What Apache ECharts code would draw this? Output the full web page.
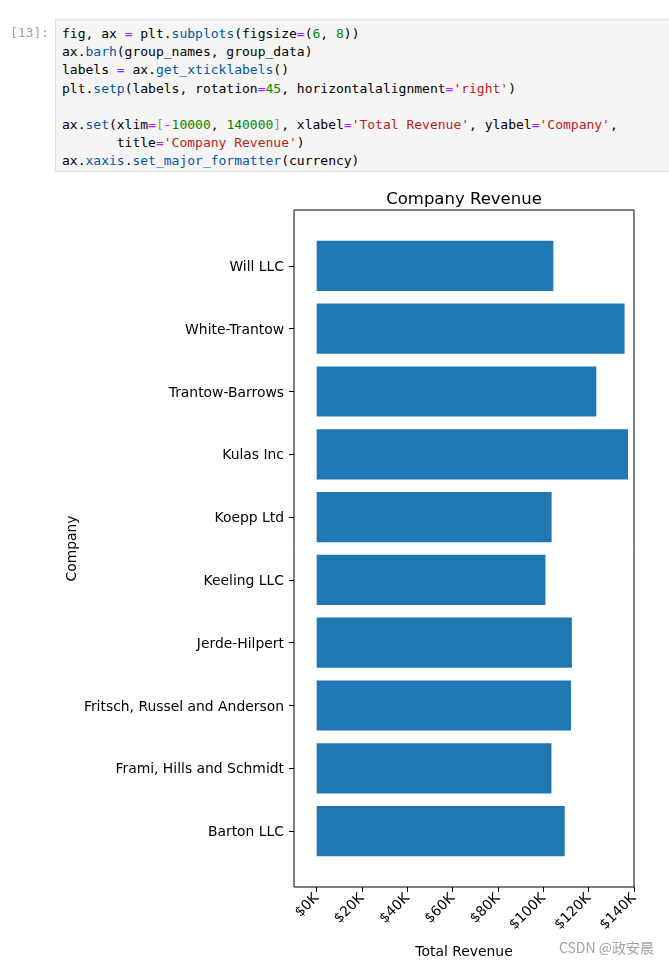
<!DOCTYPE html>
<html>
<head>
<meta charset="utf-8">
<script src="https://cdn.jsdelivr.net/npm/echarts@6/dist/echarts.min.js"></script>
<style>
  html, body { margin: 0; padding: 0; background: #fff; width: 669px; height: 967px; overflow: hidden; }
  #chart { position: absolute; left: 0; top: 0; width: 669px; height: 967px; }
  #prompt { position: absolute; left: 10px; top: 24px; font-family: "DejaVu Sans Mono", monospace; font-size: 13px; line-height: 18.2px; color: #a0a0a0; }
  #cell { position: absolute; left: 55px; top: 19px; width: 640px; height: 153px; background: #f5f5f5; border: 1px solid #e0e0e0; box-sizing: border-box; }
  #cell pre { margin: 0; padding: 5px 0 0 6px; font-family: "DejaVu Sans Mono", monospace; font-size: 13px; line-height: 18.2px; color: #000; }
  .o { color: #aa22ff; } .p { color: #0055aa; } .n { color: #008800; } .s { color: #ba2121; } .b { color: #999977; }
</style>
</head>
<body>
<div id="chart"></div>
<div id="prompt">[13]:</div>
<div id="cell"><pre>fig, ax <span class="o">=</span> plt.<span class="p">subplots</span>(figsize<span class="o">=</span>(<span class="n">6</span>, <span class="n">8</span>))
ax.<span class="p">barh</span>(group_names, group_data)
labels <span class="o">=</span> ax.<span class="p">get_xticklabels</span>()
plt.<span class="p">setp</span>(labels, rotation<span class="o">=</span><span class="n">45</span>, horizontalalignment<span class="o">=</span><span class="s">'right'</span>)

ax.<span class="p">set</span>(xlim<span class="o">=</span><span class="b">[</span><span class="o">-</span><span class="n">10000</span>, <span class="n">140000</span><span class="b">]</span>, xlabel<span class="o">=</span><span class="s">'Total Revenue'</span>, ylabel<span class="o">=</span><span class="s">'Company'</span>,
       title<span class="o">=</span><span class="s">'Company Revenue'</span>)
ax.<span class="p">xaxis</span>.<span class="p">set_major_formatter</span>(currency)</pre></div>
<script>
// Data (bottom to top, as matplotlib barh draws them)
const companies = ["Barton LLC", "Frami, Hills and Schmidt", "Fritsch, Russel and Anderson", "Jerde-Hilpert", "Keeling LLC", "Koepp Ltd", "Kulas Inc", "Trantow-Barrows", "White-Trantow", "Will LLC"];
const revenue = [109438.50, 103569.59, 112214.71, 112591.43, 100934.30, 103660.54, 137351.96, 123381.38, 135841.99, 104437.60];
const xTicks = [0, 20000, 40000, 60000, 80000, 100000, 120000, 140000];
const xTickLabels = ["$0K", "$20K", "$40K", "$60K", "$80K", "$100K", "$120K", "$140K"];

const yIdx = companies.map((_, i) => i);
const chart = echarts.init(document.getElementById('chart'), null, { renderer: 'canvas' });
const font = "DejaVu Sans";
const fs = 13.9;
chart.setOption({
  animation: false,
  backgroundColor: 'transparent',
  title: {
    text: 'Company Revenue', left: 459, top: 186, textAlign: 'center',
    textStyle: { fontFamily: font, fontSize: 16.5, fontWeight: 'normal', color: '#000' }
  },
  grid: { left: 294, top: 210, width: 340, height: 677, show: true, borderColor: '#000', borderWidth: 1, backgroundColor: 'transparent' },
  xAxis: {
    type: 'value', min: -10000, max: 140000,
    name: 'Total Revenue', nameLocation: 'middle', nameGap: 58, nameMoveOverlap: false,
    nameTextStyle: { fontFamily: font, fontSize: fs, color: '#000' },
    axisLine: { show: false, onZero: false },
    splitLine: { show: false },
    axisTick: { show: true, length: 5, lineStyle: { color: '#000', width: 1 }, customValues: xTicks },
    axisLabel: {
      customValues: xTicks, rotate: 45, margin: 9,
      fontFamily: font, fontSize: fs, color: '#000',
      formatter: v => xTickLabels[xTicks.indexOf(v)]
    }
  },
  yAxis: {
    type: 'value', min: -0.89, max: 9.89,
    name: 'Company', nameLocation: 'middle', nameGap: 215, nameMoveOverlap: false,
    nameTextStyle: { fontFamily: font, fontSize: fs, color: '#000' },
    axisLine: { show: false, onZero: false },
    splitLine: { show: false },
    axisTick: { show: true, length: 5, lineStyle: { color: '#000', width: 1 }, customValues: yIdx },
    axisLabel: {
      customValues: yIdx, margin: 10,
      fontFamily: font, fontSize: fs, color: '#000',
      formatter: v => '{a|' + companies[Math.round(v)] + '}',
      rich: { a: { fontFamily: font, fontSize: fs, color: '#000', padding: [3, 0, 0, 0] } }
    }
  },
  series: [{
    type: 'custom',
    data: revenue.map((v, i) => [v, i]),
    encode: { x: 0, y: 1 },
    renderItem: function (params, api) {
      const v = api.value(0), i = api.value(1);
      const p0 = api.coord([0, i]);
      const p1 = api.coord([v, i]);
      const h = api.size([0, 0.8])[1];
      return {
        type: 'rect',
        shape: { x: p0[0], y: p0[1] - h / 2, width: p1[0] - p0[0], height: h },
        style: { fill: '#1f77b4' }
      };
    }
  }],
  graphic: [{
    type: 'text', right: 15, top: 941,
    style: { text: 'CSDN @政安晨', fontFamily: '"Noto Sans CJK SC", sans-serif', fontSize: 14, fill: '#a3a3a3' }
  }]
});
</script>
</body>
</html>
